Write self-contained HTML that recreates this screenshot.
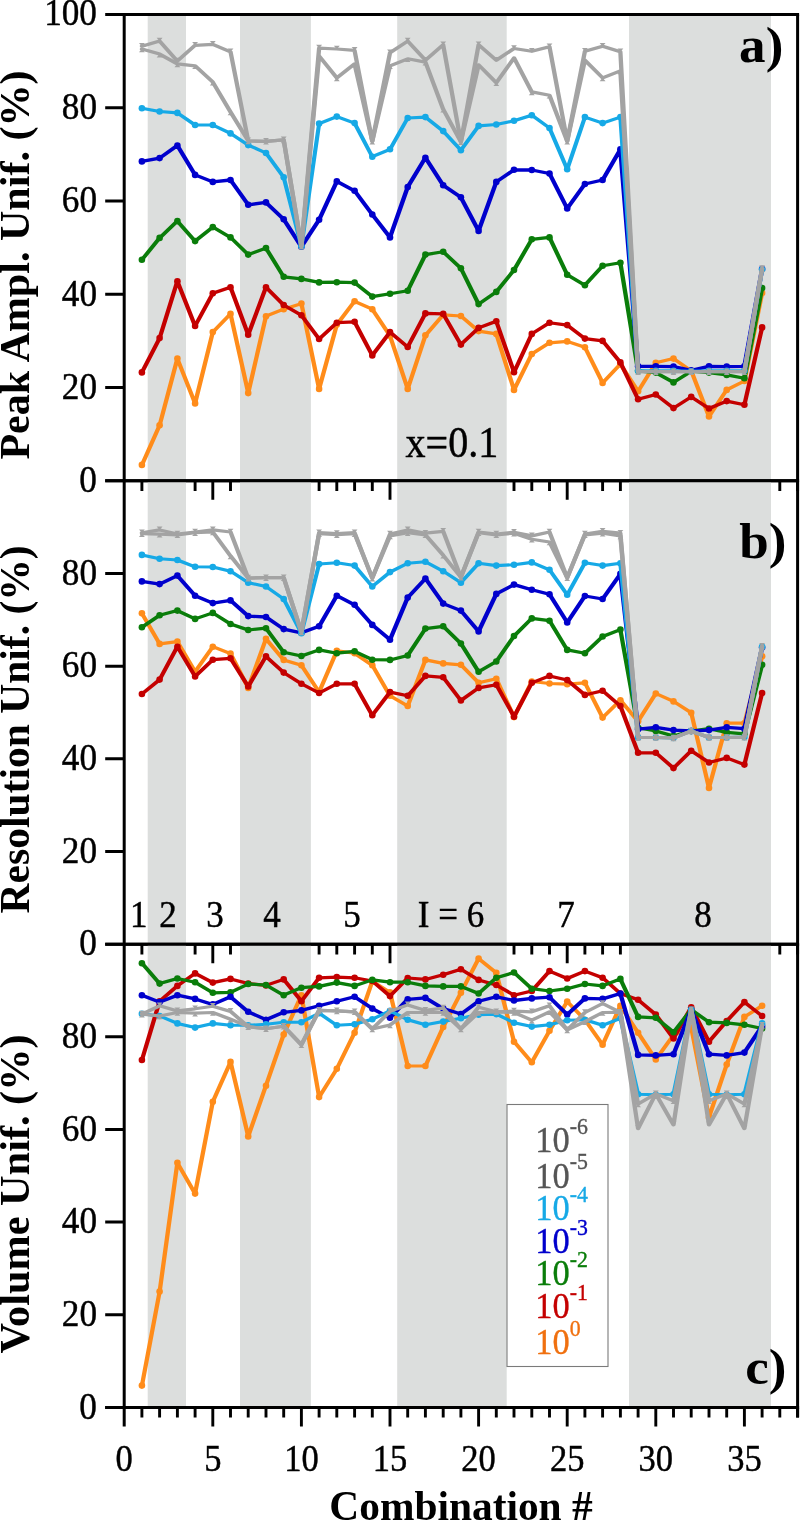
<!DOCTYPE html>
<html lang="en"><head><meta charset="utf-8"><title>Uniformity vs combination</title>
<style>html,body{margin:0;padding:0;background:#fff}body{width:800px;height:1521px;overflow:hidden}svg{display:block}text{font-family:"Liberation Serif","DejaVu Serif",serif;fill:#000}.b{font-weight:bold}.n{stroke:#000;stroke-width:0.45px}</style>
</head><body>
<svg width="800" height="1521" viewBox="0 0 800 1521">
<rect width="800" height="1521" fill="#fff"/>
<rect x="147.7" y="15.4" width="38.3" height="465.4" fill="#dcdedd"/>
<rect x="240.0" y="15.4" width="70.9" height="465.4" fill="#dcdedd"/>
<rect x="397.2" y="15.4" width="109.5" height="465.4" fill="#dcdedd"/>
<rect x="629.0" y="15.4" width="142.0" height="465.4" fill="#dcdedd"/>
<polyline transform="scale(1.35,1)" fill="none" stroke="#ff8c1a" stroke-width="3.2" stroke-linejoin="round" stroke-linecap="round" points="105.13,464.9 118.25,425.3 131.38,358.6 144.50,403.4 157.63,332.1 170.76,313.9 183.88,393.1 197.01,316.2 210.13,309.2 223.26,303.6 236.39,388.9 249.51,324.6 262.64,301.3 275.76,309.2 288.89,335.8 302.01,388.9 315.14,335.3 328.27,314.8 341.39,316.0 354.52,331.1 367.64,333.9 380.77,389.9 393.90,354.0 407.02,342.8 420.15,341.4 433.27,347.2 446.40,382.9 459.53,364.2 472.65,391.3 485.78,362.8 498.90,358.6 512.03,370.8 525.16,416.5 538.28,389.9 551.41,381.0 564.53,292.9"/>
<g fill="#ff8c1a"><circle cx="141.9" cy="464.9" r="3.3"/><circle cx="159.6" cy="425.3" r="3.3"/><circle cx="177.4" cy="358.6" r="3.3"/><circle cx="195.1" cy="403.4" r="3.3"/><circle cx="212.8" cy="332.1" r="3.3"/><circle cx="230.5" cy="313.9" r="3.3"/><circle cx="248.2" cy="393.1" r="3.3"/><circle cx="266.0" cy="316.2" r="3.3"/><circle cx="283.7" cy="309.2" r="3.3"/><circle cx="301.4" cy="303.6" r="3.3"/><circle cx="319.1" cy="388.9" r="3.3"/><circle cx="336.8" cy="324.6" r="3.3"/><circle cx="354.6" cy="301.3" r="3.3"/><circle cx="372.3" cy="309.2" r="3.3"/><circle cx="390.0" cy="335.8" r="3.3"/><circle cx="407.7" cy="388.9" r="3.3"/><circle cx="425.4" cy="335.3" r="3.3"/><circle cx="443.2" cy="314.8" r="3.3"/><circle cx="460.9" cy="316.0" r="3.3"/><circle cx="478.6" cy="331.1" r="3.3"/><circle cx="496.3" cy="333.9" r="3.3"/><circle cx="514.0" cy="389.9" r="3.3"/><circle cx="531.8" cy="354.0" r="3.3"/><circle cx="549.5" cy="342.8" r="3.3"/><circle cx="567.2" cy="341.4" r="3.3"/><circle cx="584.9" cy="347.2" r="3.3"/><circle cx="602.6" cy="382.9" r="3.3"/><circle cx="620.4" cy="364.2" r="3.3"/><circle cx="638.1" cy="391.3" r="3.3"/><circle cx="655.8" cy="362.8" r="3.3"/><circle cx="673.5" cy="358.6" r="3.3"/><circle cx="691.2" cy="370.8" r="3.3"/><circle cx="709.0" cy="416.5" r="3.3"/><circle cx="726.7" cy="389.9" r="3.3"/><circle cx="744.4" cy="381.0" r="3.3"/><circle cx="762.1" cy="292.9" r="3.3"/></g>
<polyline transform="scale(1.35,1)" fill="none" stroke="#c40000" stroke-width="3.2" stroke-linejoin="round" stroke-linecap="round" points="105.13,372.4 118.25,338.1 131.38,281.2 144.50,326.0 157.63,293.3 170.76,287.3 183.88,334.8 197.01,287.3 210.13,305.0 223.26,315.3 236.39,339.0 249.51,322.7 262.64,321.8 275.76,355.4 288.89,332.1 302.01,347.0 315.14,313.4 328.27,313.9 341.39,344.6 354.52,327.9 367.64,321.3 380.77,372.2 393.90,333.9 407.02,322.7 420.15,325.1 433.27,338.6 446.40,340.9 459.53,362.4 472.65,399.2 485.78,394.5 498.90,408.1 512.03,396.9 525.16,408.5 538.28,401.1 551.41,404.8 564.53,327.4"/>
<g fill="#c40000"><circle cx="141.9" cy="372.4" r="3.3"/><circle cx="159.6" cy="338.1" r="3.3"/><circle cx="177.4" cy="281.2" r="3.3"/><circle cx="195.1" cy="326.0" r="3.3"/><circle cx="212.8" cy="293.3" r="3.3"/><circle cx="230.5" cy="287.3" r="3.3"/><circle cx="248.2" cy="334.8" r="3.3"/><circle cx="266.0" cy="287.3" r="3.3"/><circle cx="283.7" cy="305.0" r="3.3"/><circle cx="301.4" cy="315.3" r="3.3"/><circle cx="319.1" cy="339.0" r="3.3"/><circle cx="336.8" cy="322.7" r="3.3"/><circle cx="354.6" cy="321.8" r="3.3"/><circle cx="372.3" cy="355.4" r="3.3"/><circle cx="390.0" cy="332.1" r="3.3"/><circle cx="407.7" cy="347.0" r="3.3"/><circle cx="425.4" cy="313.4" r="3.3"/><circle cx="443.2" cy="313.9" r="3.3"/><circle cx="460.9" cy="344.6" r="3.3"/><circle cx="478.6" cy="327.9" r="3.3"/><circle cx="496.3" cy="321.3" r="3.3"/><circle cx="514.0" cy="372.2" r="3.3"/><circle cx="531.8" cy="333.9" r="3.3"/><circle cx="549.5" cy="322.7" r="3.3"/><circle cx="567.2" cy="325.1" r="3.3"/><circle cx="584.9" cy="338.6" r="3.3"/><circle cx="602.6" cy="340.9" r="3.3"/><circle cx="620.4" cy="362.4" r="3.3"/><circle cx="638.1" cy="399.2" r="3.3"/><circle cx="655.8" cy="394.5" r="3.3"/><circle cx="673.5" cy="408.1" r="3.3"/><circle cx="691.2" cy="396.9" r="3.3"/><circle cx="709.0" cy="408.5" r="3.3"/><circle cx="726.7" cy="401.1" r="3.3"/><circle cx="744.4" cy="404.8" r="3.3"/><circle cx="762.1" cy="327.4" r="3.3"/></g>
<polyline transform="scale(1.35,1)" fill="none" stroke="#0a7d0a" stroke-width="3.2" stroke-linejoin="round" stroke-linecap="round" points="105.13,259.8 118.25,237.9 131.38,221.1 144.50,241.1 157.63,227.1 170.76,237.4 183.88,254.6 197.01,248.1 210.13,276.8 223.26,278.9 236.39,282.4 249.51,282.2 262.64,282.6 275.76,296.6 288.89,293.8 302.01,290.8 315.14,254.6 328.27,251.8 341.39,268.2 354.52,304.1 367.64,291.9 380.77,270.0 393.90,239.3 407.02,237.4 420.15,274.7 433.27,285.2 446.40,265.8 459.53,262.8 472.65,370.8 485.78,372.6 498.90,382.4 512.03,371.2 525.16,372.6 538.28,374.9 551.41,378.2 564.53,288.0"/>
<g fill="#0a7d0a"><circle cx="141.9" cy="259.8" r="3.3"/><circle cx="159.6" cy="237.9" r="3.3"/><circle cx="177.4" cy="221.1" r="3.3"/><circle cx="195.1" cy="241.1" r="3.3"/><circle cx="212.8" cy="227.1" r="3.3"/><circle cx="230.5" cy="237.4" r="3.3"/><circle cx="248.2" cy="254.6" r="3.3"/><circle cx="266.0" cy="248.1" r="3.3"/><circle cx="283.7" cy="276.8" r="3.3"/><circle cx="301.4" cy="278.9" r="3.3"/><circle cx="319.1" cy="282.4" r="3.3"/><circle cx="336.8" cy="282.2" r="3.3"/><circle cx="354.6" cy="282.6" r="3.3"/><circle cx="372.3" cy="296.6" r="3.3"/><circle cx="390.0" cy="293.8" r="3.3"/><circle cx="407.7" cy="290.8" r="3.3"/><circle cx="425.4" cy="254.6" r="3.3"/><circle cx="443.2" cy="251.8" r="3.3"/><circle cx="460.9" cy="268.2" r="3.3"/><circle cx="478.6" cy="304.1" r="3.3"/><circle cx="496.3" cy="291.9" r="3.3"/><circle cx="514.0" cy="270.0" r="3.3"/><circle cx="531.8" cy="239.3" r="3.3"/><circle cx="549.5" cy="237.4" r="3.3"/><circle cx="567.2" cy="274.7" r="3.3"/><circle cx="584.9" cy="285.2" r="3.3"/><circle cx="602.6" cy="265.8" r="3.3"/><circle cx="620.4" cy="262.8" r="3.3"/><circle cx="638.1" cy="370.8" r="3.3"/><circle cx="655.8" cy="372.6" r="3.3"/><circle cx="673.5" cy="382.4" r="3.3"/><circle cx="691.2" cy="371.2" r="3.3"/><circle cx="709.0" cy="372.6" r="3.3"/><circle cx="726.7" cy="374.9" r="3.3"/><circle cx="744.4" cy="378.2" r="3.3"/><circle cx="762.1" cy="288.0" r="3.3"/></g>
<polyline transform="scale(1.35,1)" fill="none" stroke="#0000cc" stroke-width="3.3" stroke-linejoin="round" stroke-linecap="round" points="105.13,161.4 118.25,158.1 131.38,145.5 144.50,174.9 157.63,181.9 170.76,180.0 183.88,204.8 197.01,202.4 210.13,219.2 223.26,246.7 236.39,219.7 249.51,181.4 262.64,190.8 275.76,214.5 288.89,237.4 302.01,187.0 315.14,157.7 328.27,185.2 341.39,197.3 354.52,230.9 367.64,181.9 380.77,169.8 393.90,170.0 407.02,173.5 420.15,208.5 433.27,184.0 446.40,180.0 459.53,149.3 472.65,366.3 485.78,366.3 498.90,366.6 512.03,370.3 525.16,366.3 538.28,366.6 551.41,366.3 564.53,269.1"/>
<g fill="#0000cc"><circle cx="141.9" cy="161.4" r="3.3"/><circle cx="159.6" cy="158.1" r="3.3"/><circle cx="177.4" cy="145.5" r="3.3"/><circle cx="195.1" cy="174.9" r="3.3"/><circle cx="212.8" cy="181.9" r="3.3"/><circle cx="230.5" cy="180.0" r="3.3"/><circle cx="248.2" cy="204.8" r="3.3"/><circle cx="266.0" cy="202.4" r="3.3"/><circle cx="283.7" cy="219.2" r="3.3"/><circle cx="301.4" cy="246.7" r="3.3"/><circle cx="319.1" cy="219.7" r="3.3"/><circle cx="336.8" cy="181.4" r="3.3"/><circle cx="354.6" cy="190.8" r="3.3"/><circle cx="372.3" cy="214.5" r="3.3"/><circle cx="390.0" cy="237.4" r="3.3"/><circle cx="407.7" cy="187.0" r="3.3"/><circle cx="425.4" cy="157.7" r="3.3"/><circle cx="443.2" cy="185.2" r="3.3"/><circle cx="460.9" cy="197.3" r="3.3"/><circle cx="478.6" cy="230.9" r="3.3"/><circle cx="496.3" cy="181.9" r="3.3"/><circle cx="514.0" cy="169.8" r="3.3"/><circle cx="531.8" cy="170.0" r="3.3"/><circle cx="549.5" cy="173.5" r="3.3"/><circle cx="567.2" cy="208.5" r="3.3"/><circle cx="584.9" cy="184.0" r="3.3"/><circle cx="602.6" cy="180.0" r="3.3"/><circle cx="620.4" cy="149.3" r="3.3"/><circle cx="638.1" cy="366.3" r="3.3"/><circle cx="655.8" cy="366.3" r="3.3"/><circle cx="673.5" cy="366.6" r="3.3"/><circle cx="691.2" cy="370.3" r="3.3"/><circle cx="709.0" cy="366.3" r="3.3"/><circle cx="726.7" cy="366.6" r="3.3"/><circle cx="744.4" cy="366.3" r="3.3"/><circle cx="762.1" cy="269.1" r="3.3"/></g>
<polyline transform="scale(1.35,1)" fill="none" stroke="#16a9e6" stroke-width="3.1" stroke-linejoin="round" stroke-linecap="round" points="105.13,108.2 118.25,111.5 131.38,112.9 144.50,125.0 157.63,125.0 170.76,133.4 183.88,145.1 197.01,153.0 210.13,177.2 223.26,246.3 236.39,123.6 249.51,116.6 262.64,123.1 275.76,156.7 288.89,149.3 302.01,118.0 315.14,117.1 328.27,131.1 341.39,150.2 354.52,125.9 367.64,124.5 380.77,120.8 393.90,115.2 407.02,128.0 420.15,169.3 433.27,117.1 446.40,123.1 459.53,117.1 472.65,370.8 485.78,370.8 498.90,370.8 512.03,371.2 525.16,370.8 538.28,370.8 551.41,370.8 564.53,269.6"/>
<g fill="#16a9e6"><circle cx="141.9" cy="108.2" r="3.3"/><circle cx="159.6" cy="111.5" r="3.3"/><circle cx="177.4" cy="112.9" r="3.3"/><circle cx="195.1" cy="125.0" r="3.3"/><circle cx="212.8" cy="125.0" r="3.3"/><circle cx="230.5" cy="133.4" r="3.3"/><circle cx="248.2" cy="145.1" r="3.3"/><circle cx="266.0" cy="153.0" r="3.3"/><circle cx="283.7" cy="177.2" r="3.3"/><circle cx="301.4" cy="246.3" r="3.3"/><circle cx="319.1" cy="123.6" r="3.3"/><circle cx="336.8" cy="116.6" r="3.3"/><circle cx="354.6" cy="123.1" r="3.3"/><circle cx="372.3" cy="156.7" r="3.3"/><circle cx="390.0" cy="149.3" r="3.3"/><circle cx="407.7" cy="118.0" r="3.3"/><circle cx="425.4" cy="117.1" r="3.3"/><circle cx="443.2" cy="131.1" r="3.3"/><circle cx="460.9" cy="150.2" r="3.3"/><circle cx="478.6" cy="125.9" r="3.3"/><circle cx="496.3" cy="124.5" r="3.3"/><circle cx="514.0" cy="120.8" r="3.3"/><circle cx="531.8" cy="115.2" r="3.3"/><circle cx="549.5" cy="128.0" r="3.3"/><circle cx="567.2" cy="169.3" r="3.3"/><circle cx="584.9" cy="117.1" r="3.3"/><circle cx="602.6" cy="123.1" r="3.3"/><circle cx="620.4" cy="117.1" r="3.3"/><circle cx="638.1" cy="370.8" r="3.3"/><circle cx="655.8" cy="370.8" r="3.3"/><circle cx="673.5" cy="370.8" r="3.3"/><circle cx="691.2" cy="371.2" r="3.3"/><circle cx="709.0" cy="370.8" r="3.3"/><circle cx="726.7" cy="370.8" r="3.3"/><circle cx="744.4" cy="370.8" r="3.3"/><circle cx="762.1" cy="269.6" r="3.3"/></g>
<polyline transform="scale(1.35,1)" fill="none" stroke="#a3a3a3" stroke-width="3.2" stroke-linejoin="round" stroke-linecap="round" points="105.13,49.0 118.25,54.1 131.38,63.9 144.50,65.8 157.63,82.1 170.76,112.0 183.88,140.9 197.01,141.3 210.13,139.9 223.26,246.3 236.39,56.0 249.51,77.9 262.64,63.9 275.76,141.3 288.89,65.8 302.01,58.8 315.14,62.1 328.27,109.2 341.39,141.8 354.52,64.9 367.64,82.8 380.77,57.9 393.90,91.9 407.02,95.2 420.15,141.3 433.27,60.2 446.40,77.9 459.53,70.9 472.65,371.7 485.78,371.7 498.90,371.7 512.03,371.7 525.16,371.7 538.28,371.7 551.41,371.7 564.53,268.6"/>
<g fill="#a3a3a3"><path d="M139.0,52.3h5.8l-2.9,-3.6z"/><path d="M156.7,57.4h5.8l-2.9,-3.6z"/><path d="M174.5,67.2h5.8l-2.9,-3.6z"/><path d="M192.2,69.1h5.8l-2.9,-3.6z"/><path d="M209.9,85.4h5.8l-2.9,-3.6z"/><path d="M227.6,115.3h5.8l-2.9,-3.6z"/><path d="M245.3,144.2h5.8l-2.9,-3.6z"/><path d="M263.1,144.6h5.8l-2.9,-3.6z"/><path d="M280.8,143.2h5.8l-2.9,-3.6z"/><path d="M298.5,249.6h5.8l-2.9,-3.6z"/><path d="M316.2,59.3h5.8l-2.9,-3.6z"/><path d="M333.9,81.2h5.8l-2.9,-3.6z"/><path d="M351.7,67.2h5.8l-2.9,-3.6z"/><path d="M369.4,144.6h5.8l-2.9,-3.6z"/><path d="M387.1,69.1h5.8l-2.9,-3.6z"/><path d="M404.8,62.1h5.8l-2.9,-3.6z"/><path d="M422.5,65.4h5.8l-2.9,-3.6z"/><path d="M440.3,112.5h5.8l-2.9,-3.6z"/><path d="M458.0,145.1h5.8l-2.9,-3.6z"/><path d="M475.7,68.2h5.8l-2.9,-3.6z"/><path d="M493.4,86.1h5.8l-2.9,-3.6z"/><path d="M511.1,61.2h5.8l-2.9,-3.6z"/><path d="M528.9,95.2h5.8l-2.9,-3.6z"/><path d="M546.6,98.5h5.8l-2.9,-3.6z"/><path d="M564.3,144.6h5.8l-2.9,-3.6z"/><path d="M582.0,63.5h5.8l-2.9,-3.6z"/><path d="M599.7,81.2h5.8l-2.9,-3.6z"/><path d="M617.5,74.2h5.8l-2.9,-3.6z"/><path d="M635.2,375.0h5.8l-2.9,-3.6z"/><path d="M652.9,375.0h5.8l-2.9,-3.6z"/><path d="M670.6,375.0h5.8l-2.9,-3.6z"/><path d="M688.3,375.0h5.8l-2.9,-3.6z"/><path d="M706.1,375.0h5.8l-2.9,-3.6z"/><path d="M723.8,375.0h5.8l-2.9,-3.6z"/><path d="M741.5,375.0h5.8l-2.9,-3.6z"/><path d="M759.2,271.9h5.8l-2.9,-3.6z"/></g>
<polyline transform="scale(1.35,1)" fill="none" stroke="#a3a3a3" stroke-width="3.2" stroke-linejoin="round" stroke-linecap="round" points="105.13,46.2 118.25,41.1 131.38,61.1 144.50,45.3 157.63,44.3 170.76,51.8 183.88,140.9 197.01,141.3 210.13,139.9 223.26,246.3 236.39,48.1 249.51,49.0 262.64,50.4 275.76,141.3 288.89,52.7 302.01,41.1 315.14,60.2 328.27,44.8 341.39,141.8 354.52,44.8 367.64,60.2 380.77,48.5 393.90,51.3 407.02,46.7 420.15,141.3 433.27,51.3 446.40,46.2 459.53,51.8 472.65,371.7 485.78,371.7 498.90,371.7 512.03,371.7 525.16,371.7 538.28,371.7 551.41,371.7 564.53,268.6"/>
<g fill="#a3a3a3"><path d="M139.0,42.9h5.8l-2.9,3.6z"/><path d="M156.7,37.8h5.8l-2.9,3.6z"/><path d="M174.5,57.8h5.8l-2.9,3.6z"/><path d="M192.2,42.0h5.8l-2.9,3.6z"/><path d="M209.9,41.0h5.8l-2.9,3.6z"/><path d="M227.6,48.5h5.8l-2.9,3.6z"/><path d="M245.3,137.6h5.8l-2.9,3.6z"/><path d="M263.1,138.0h5.8l-2.9,3.6z"/><path d="M280.8,136.6h5.8l-2.9,3.6z"/><path d="M298.5,243.0h5.8l-2.9,3.6z"/><path d="M316.2,44.8h5.8l-2.9,3.6z"/><path d="M333.9,45.7h5.8l-2.9,3.6z"/><path d="M351.7,47.1h5.8l-2.9,3.6z"/><path d="M369.4,138.0h5.8l-2.9,3.6z"/><path d="M387.1,49.4h5.8l-2.9,3.6z"/><path d="M404.8,37.8h5.8l-2.9,3.6z"/><path d="M422.5,56.9h5.8l-2.9,3.6z"/><path d="M440.3,41.5h5.8l-2.9,3.6z"/><path d="M458.0,138.5h5.8l-2.9,3.6z"/><path d="M475.7,41.5h5.8l-2.9,3.6z"/><path d="M493.4,56.9h5.8l-2.9,3.6z"/><path d="M511.1,45.2h5.8l-2.9,3.6z"/><path d="M528.9,48.0h5.8l-2.9,3.6z"/><path d="M546.6,43.4h5.8l-2.9,3.6z"/><path d="M564.3,138.0h5.8l-2.9,3.6z"/><path d="M582.0,48.0h5.8l-2.9,3.6z"/><path d="M599.7,42.9h5.8l-2.9,3.6z"/><path d="M617.5,48.5h5.8l-2.9,3.6z"/><path d="M635.2,368.4h5.8l-2.9,3.6z"/><path d="M652.9,368.4h5.8l-2.9,3.6z"/><path d="M670.6,368.4h5.8l-2.9,3.6z"/><path d="M688.3,368.4h5.8l-2.9,3.6z"/><path d="M706.1,368.4h5.8l-2.9,3.6z"/><path d="M723.8,368.4h5.8l-2.9,3.6z"/><path d="M741.5,368.4h5.8l-2.9,3.6z"/><path d="M759.2,265.3h5.8l-2.9,3.6z"/></g>
<g stroke="#000" stroke-width="3.0" fill="none">
<path d="M141.9,480.8v10.2 M159.6,480.8v10.2 M177.4,480.8v10.2 M195.1,480.8v10.2 M212.8,480.8v19.0 M230.5,480.8v10.2 M248.2,480.8v10.2 M266.0,480.8v10.2 M283.7,480.8v10.2 M301.4,480.8v19.0 M319.1,480.8v10.2 M336.8,480.8v10.2 M354.6,480.8v10.2 M372.3,480.8v10.2 M390.0,480.8v19.0 M407.7,480.8v10.2 M425.4,480.8v10.2 M443.2,480.8v10.2 M460.9,480.8v10.2 M478.6,480.8v19.0 M496.3,480.8v10.2 M514.0,480.8v10.2 M531.8,480.8v10.2 M549.5,480.8v10.2 M567.2,480.8v19.0 M584.9,480.8v10.2 M602.6,480.8v10.2 M620.4,480.8v10.2 M638.1,480.8v10.2 M655.8,480.8v19.0 M673.5,480.8v10.2 M691.2,480.8v10.2 M709.0,480.8v10.2 M726.7,480.8v10.2 M744.4,480.8v19.0 M762.1,480.8v10.2 M779.8,480.8v10.2 M797.6,480.8v10.2" stroke-width="2.9"/>
<path d="M105.2,480.8H799.1"/>
<path d="M105.2,387.5H124.2 M105.2,294.3H124.2 M105.2,201.0H124.2 M105.2,107.8H124.2"/>
</g>
<rect x="147.7" y="481.7" width="38.3" height="462.5" fill="#dcdedd"/>
<rect x="240.0" y="481.7" width="70.9" height="462.5" fill="#dcdedd"/>
<rect x="397.2" y="481.7" width="109.5" height="462.5" fill="#dcdedd"/>
<rect x="629.0" y="481.7" width="142.0" height="462.5" fill="#dcdedd"/>
<polyline transform="scale(1.35,1)" fill="none" stroke="#ff8c1a" stroke-width="3.2" stroke-linejoin="round" stroke-linecap="round" points="105.13,613.3 118.25,643.9 131.38,641.6 144.50,671.7 157.63,646.7 170.76,653.6 183.88,687.9 197.01,638.8 210.13,659.9 223.26,665.2 236.39,692.1 249.51,650.9 262.64,653.2 275.76,665.2 288.89,695.8 302.01,706.0 315.14,659.9 328.27,663.4 341.39,664.8 354.52,682.8 367.64,678.7 380.77,717.1 393.90,681.5 407.02,683.5 420.15,684.2 433.27,682.8 446.40,717.6 459.53,700.2 472.65,721.3 485.78,693.5 498.90,701.4 512.03,712.7 525.16,788.0 538.28,723.2 551.41,723.2 564.53,656.2"/>
<g fill="#ff8c1a"><circle cx="141.9" cy="613.3" r="3.3"/><circle cx="159.6" cy="643.9" r="3.3"/><circle cx="177.4" cy="641.6" r="3.3"/><circle cx="195.1" cy="671.7" r="3.3"/><circle cx="212.8" cy="646.7" r="3.3"/><circle cx="230.5" cy="653.6" r="3.3"/><circle cx="248.2" cy="687.9" r="3.3"/><circle cx="266.0" cy="638.8" r="3.3"/><circle cx="283.7" cy="659.9" r="3.3"/><circle cx="301.4" cy="665.2" r="3.3"/><circle cx="319.1" cy="692.1" r="3.3"/><circle cx="336.8" cy="650.9" r="3.3"/><circle cx="354.6" cy="653.2" r="3.3"/><circle cx="372.3" cy="665.2" r="3.3"/><circle cx="390.0" cy="695.8" r="3.3"/><circle cx="407.7" cy="706.0" r="3.3"/><circle cx="425.4" cy="659.9" r="3.3"/><circle cx="443.2" cy="663.4" r="3.3"/><circle cx="460.9" cy="664.8" r="3.3"/><circle cx="478.6" cy="682.8" r="3.3"/><circle cx="496.3" cy="678.7" r="3.3"/><circle cx="514.0" cy="717.1" r="3.3"/><circle cx="531.8" cy="681.5" r="3.3"/><circle cx="549.5" cy="683.5" r="3.3"/><circle cx="567.2" cy="684.2" r="3.3"/><circle cx="584.9" cy="682.8" r="3.3"/><circle cx="602.6" cy="717.6" r="3.3"/><circle cx="620.4" cy="700.2" r="3.3"/><circle cx="638.1" cy="721.3" r="3.3"/><circle cx="655.8" cy="693.5" r="3.3"/><circle cx="673.5" cy="701.4" r="3.3"/><circle cx="691.2" cy="712.7" r="3.3"/><circle cx="709.0" cy="788.0" r="3.3"/><circle cx="726.7" cy="723.2" r="3.3"/><circle cx="744.4" cy="723.2" r="3.3"/><circle cx="762.1" cy="656.2" r="3.3"/></g>
<polyline transform="scale(1.35,1)" fill="none" stroke="#c40000" stroke-width="3.2" stroke-linejoin="round" stroke-linecap="round" points="105.13,694.0 118.25,679.6 131.38,646.7 144.50,676.4 157.63,659.7 170.76,658.3 183.88,686.5 197.01,656.4 210.13,672.6 223.26,683.8 236.39,693.0 249.51,683.8 262.64,683.8 275.76,715.3 288.89,692.1 302.01,695.8 315.14,675.9 328.27,677.3 341.39,700.5 354.52,687.9 367.64,684.7 380.77,716.7 393.90,682.8 407.02,675.9 420.15,680.1 433.27,694.9 446.40,690.7 459.53,706.0 472.65,752.8 485.78,752.8 498.90,768.1 512.03,750.7 525.16,762.5 538.28,757.9 551.41,764.6 564.53,693.0"/>
<g fill="#c40000"><circle cx="141.9" cy="694.0" r="3.3"/><circle cx="159.6" cy="679.6" r="3.3"/><circle cx="177.4" cy="646.7" r="3.3"/><circle cx="195.1" cy="676.4" r="3.3"/><circle cx="212.8" cy="659.7" r="3.3"/><circle cx="230.5" cy="658.3" r="3.3"/><circle cx="248.2" cy="686.5" r="3.3"/><circle cx="266.0" cy="656.4" r="3.3"/><circle cx="283.7" cy="672.6" r="3.3"/><circle cx="301.4" cy="683.8" r="3.3"/><circle cx="319.1" cy="693.0" r="3.3"/><circle cx="336.8" cy="683.8" r="3.3"/><circle cx="354.6" cy="683.8" r="3.3"/><circle cx="372.3" cy="715.3" r="3.3"/><circle cx="390.0" cy="692.1" r="3.3"/><circle cx="407.7" cy="695.8" r="3.3"/><circle cx="425.4" cy="675.9" r="3.3"/><circle cx="443.2" cy="677.3" r="3.3"/><circle cx="460.9" cy="700.5" r="3.3"/><circle cx="478.6" cy="687.9" r="3.3"/><circle cx="496.3" cy="684.7" r="3.3"/><circle cx="514.0" cy="716.7" r="3.3"/><circle cx="531.8" cy="682.8" r="3.3"/><circle cx="549.5" cy="675.9" r="3.3"/><circle cx="567.2" cy="680.1" r="3.3"/><circle cx="584.9" cy="694.9" r="3.3"/><circle cx="602.6" cy="690.7" r="3.3"/><circle cx="620.4" cy="706.0" r="3.3"/><circle cx="638.1" cy="752.8" r="3.3"/><circle cx="655.8" cy="752.8" r="3.3"/><circle cx="673.5" cy="768.1" r="3.3"/><circle cx="691.2" cy="750.7" r="3.3"/><circle cx="709.0" cy="762.5" r="3.3"/><circle cx="726.7" cy="757.9" r="3.3"/><circle cx="744.4" cy="764.6" r="3.3"/><circle cx="762.1" cy="693.0" r="3.3"/></g>
<polyline transform="scale(1.35,1)" fill="none" stroke="#0a7d0a" stroke-width="3.2" stroke-linejoin="round" stroke-linecap="round" points="105.13,627.2 118.25,615.2 131.38,610.6 144.50,618.9 157.63,612.9 170.76,624.0 183.88,630.0 197.01,628.2 210.13,652.3 223.26,656.0 236.39,649.9 249.51,653.2 262.64,651.3 275.76,659.7 288.89,659.9 302.01,655.5 315.14,628.6 328.27,626.3 341.39,643.5 354.52,671.7 367.64,661.5 380.77,636.0 393.90,618.4 407.02,620.7 420.15,649.9 433.27,653.2 446.40,636.5 459.53,629.6 472.65,727.8 485.78,731.0 498.90,736.1 512.03,731.0 525.16,728.7 538.28,732.4 551.41,733.8 564.53,664.8"/>
<g fill="#0a7d0a"><circle cx="141.9" cy="627.2" r="3.3"/><circle cx="159.6" cy="615.2" r="3.3"/><circle cx="177.4" cy="610.6" r="3.3"/><circle cx="195.1" cy="618.9" r="3.3"/><circle cx="212.8" cy="612.9" r="3.3"/><circle cx="230.5" cy="624.0" r="3.3"/><circle cx="248.2" cy="630.0" r="3.3"/><circle cx="266.0" cy="628.2" r="3.3"/><circle cx="283.7" cy="652.3" r="3.3"/><circle cx="301.4" cy="656.0" r="3.3"/><circle cx="319.1" cy="649.9" r="3.3"/><circle cx="336.8" cy="653.2" r="3.3"/><circle cx="354.6" cy="651.3" r="3.3"/><circle cx="372.3" cy="659.7" r="3.3"/><circle cx="390.0" cy="659.9" r="3.3"/><circle cx="407.7" cy="655.5" r="3.3"/><circle cx="425.4" cy="628.6" r="3.3"/><circle cx="443.2" cy="626.3" r="3.3"/><circle cx="460.9" cy="643.5" r="3.3"/><circle cx="478.6" cy="671.7" r="3.3"/><circle cx="496.3" cy="661.5" r="3.3"/><circle cx="514.0" cy="636.0" r="3.3"/><circle cx="531.8" cy="618.4" r="3.3"/><circle cx="549.5" cy="620.7" r="3.3"/><circle cx="567.2" cy="649.9" r="3.3"/><circle cx="584.9" cy="653.2" r="3.3"/><circle cx="602.6" cy="636.5" r="3.3"/><circle cx="620.4" cy="629.6" r="3.3"/><circle cx="638.1" cy="727.8" r="3.3"/><circle cx="655.8" cy="731.0" r="3.3"/><circle cx="673.5" cy="736.1" r="3.3"/><circle cx="691.2" cy="731.0" r="3.3"/><circle cx="709.0" cy="728.7" r="3.3"/><circle cx="726.7" cy="732.4" r="3.3"/><circle cx="744.4" cy="733.8" r="3.3"/><circle cx="762.1" cy="664.8" r="3.3"/></g>
<polyline transform="scale(1.35,1)" fill="none" stroke="#0000cc" stroke-width="3.3" stroke-linejoin="round" stroke-linecap="round" points="105.13,581.4 118.25,584.1 131.38,575.6 144.50,595.7 157.63,603.1 170.76,600.4 183.88,616.1 197.01,617.0 210.13,629.1 223.26,632.8 236.39,626.3 249.51,595.7 262.64,604.8 275.76,624.9 288.89,639.7 302.01,597.6 315.14,578.6 328.27,603.6 341.39,610.6 354.52,631.4 367.64,593.9 380.77,584.6 393.90,589.7 407.02,594.3 420.15,622.4 433.27,596.0 446.40,599.0 459.53,573.9 472.65,729.2 485.78,727.3 498.90,730.1 512.03,731.0 525.16,730.1 538.28,727.3 551.41,728.7 564.53,647.6"/>
<g fill="#0000cc"><circle cx="141.9" cy="581.4" r="3.3"/><circle cx="159.6" cy="584.1" r="3.3"/><circle cx="177.4" cy="575.6" r="3.3"/><circle cx="195.1" cy="595.7" r="3.3"/><circle cx="212.8" cy="603.1" r="3.3"/><circle cx="230.5" cy="600.4" r="3.3"/><circle cx="248.2" cy="616.1" r="3.3"/><circle cx="266.0" cy="617.0" r="3.3"/><circle cx="283.7" cy="629.1" r="3.3"/><circle cx="301.4" cy="632.8" r="3.3"/><circle cx="319.1" cy="626.3" r="3.3"/><circle cx="336.8" cy="595.7" r="3.3"/><circle cx="354.6" cy="604.8" r="3.3"/><circle cx="372.3" cy="624.9" r="3.3"/><circle cx="390.0" cy="639.7" r="3.3"/><circle cx="407.7" cy="597.6" r="3.3"/><circle cx="425.4" cy="578.6" r="3.3"/><circle cx="443.2" cy="603.6" r="3.3"/><circle cx="460.9" cy="610.6" r="3.3"/><circle cx="478.6" cy="631.4" r="3.3"/><circle cx="496.3" cy="593.9" r="3.3"/><circle cx="514.0" cy="584.6" r="3.3"/><circle cx="531.8" cy="589.7" r="3.3"/><circle cx="549.5" cy="594.3" r="3.3"/><circle cx="567.2" cy="622.4" r="3.3"/><circle cx="584.9" cy="596.0" r="3.3"/><circle cx="602.6" cy="599.0" r="3.3"/><circle cx="620.4" cy="573.9" r="3.3"/><circle cx="638.1" cy="729.2" r="3.3"/><circle cx="655.8" cy="727.3" r="3.3"/><circle cx="673.5" cy="730.1" r="3.3"/><circle cx="691.2" cy="731.0" r="3.3"/><circle cx="709.0" cy="730.1" r="3.3"/><circle cx="726.7" cy="727.3" r="3.3"/><circle cx="744.4" cy="728.7" r="3.3"/><circle cx="762.1" cy="647.6" r="3.3"/></g>
<polyline transform="scale(1.35,1)" fill="none" stroke="#16a9e6" stroke-width="3.1" stroke-linejoin="round" stroke-linecap="round" points="105.13,554.9 118.25,558.7 131.38,560.0 144.50,566.8 157.63,567.0 170.76,571.2 183.88,582.7 197.01,586.5 210.13,599.0 223.26,633.3 236.39,564.0 249.51,562.8 262.64,565.6 275.76,586.5 288.89,572.1 302.01,563.3 315.14,561.7 328.27,571.2 341.39,582.7 354.52,563.3 367.64,565.6 380.77,564.7 393.90,562.4 407.02,569.8 420.15,594.8 433.27,562.8 446.40,565.6 459.53,563.3 472.65,737.5 485.78,737.5 498.90,738.0 512.03,731.0 525.16,737.5 538.28,737.5 551.41,737.1 564.53,646.7"/>
<g fill="#16a9e6"><circle cx="141.9" cy="554.9" r="3.3"/><circle cx="159.6" cy="558.7" r="3.3"/><circle cx="177.4" cy="560.0" r="3.3"/><circle cx="195.1" cy="566.8" r="3.3"/><circle cx="212.8" cy="567.0" r="3.3"/><circle cx="230.5" cy="571.2" r="3.3"/><circle cx="248.2" cy="582.7" r="3.3"/><circle cx="266.0" cy="586.5" r="3.3"/><circle cx="283.7" cy="599.0" r="3.3"/><circle cx="301.4" cy="633.3" r="3.3"/><circle cx="319.1" cy="564.0" r="3.3"/><circle cx="336.8" cy="562.8" r="3.3"/><circle cx="354.6" cy="565.6" r="3.3"/><circle cx="372.3" cy="586.5" r="3.3"/><circle cx="390.0" cy="572.1" r="3.3"/><circle cx="407.7" cy="563.3" r="3.3"/><circle cx="425.4" cy="561.7" r="3.3"/><circle cx="443.2" cy="571.2" r="3.3"/><circle cx="460.9" cy="582.7" r="3.3"/><circle cx="478.6" cy="563.3" r="3.3"/><circle cx="496.3" cy="565.6" r="3.3"/><circle cx="514.0" cy="564.7" r="3.3"/><circle cx="531.8" cy="562.4" r="3.3"/><circle cx="549.5" cy="569.8" r="3.3"/><circle cx="567.2" cy="594.8" r="3.3"/><circle cx="584.9" cy="562.8" r="3.3"/><circle cx="602.6" cy="565.6" r="3.3"/><circle cx="620.4" cy="563.3" r="3.3"/><circle cx="638.1" cy="737.5" r="3.3"/><circle cx="655.8" cy="737.5" r="3.3"/><circle cx="673.5" cy="738.0" r="3.3"/><circle cx="691.2" cy="731.0" r="3.3"/><circle cx="709.0" cy="737.5" r="3.3"/><circle cx="726.7" cy="737.5" r="3.3"/><circle cx="744.4" cy="737.1" r="3.3"/><circle cx="762.1" cy="646.7" r="3.3"/></g>
<polyline transform="scale(1.35,1)" fill="none" stroke="#a3a3a3" stroke-width="3.2" stroke-linejoin="round" stroke-linecap="round" points="105.13,533.6 118.25,534.1 131.38,534.8 144.50,532.7 157.63,532.0 170.76,555.9 183.88,578.1 197.01,577.7 210.13,577.7 223.26,631.9 236.39,533.6 249.51,534.6 262.64,533.6 275.76,578.1 288.89,535.9 302.01,532.7 315.14,534.8 328.27,555.2 341.39,577.2 354.52,532.7 367.64,534.8 380.77,533.2 393.90,539.2 407.02,542.0 420.15,577.7 433.27,534.8 446.40,533.2 459.53,535.9 472.65,737.5 485.78,737.5 498.90,738.0 512.03,731.0 525.16,737.5 538.28,737.5 551.41,737.1 564.53,646.2"/>
<g fill="#a3a3a3"><path d="M139.0,536.9h5.8l-2.9,-3.6z"/><path d="M156.7,537.4h5.8l-2.9,-3.6z"/><path d="M174.5,538.1h5.8l-2.9,-3.6z"/><path d="M192.2,536.0h5.8l-2.9,-3.6z"/><path d="M209.9,535.3h5.8l-2.9,-3.6z"/><path d="M227.6,559.2h5.8l-2.9,-3.6z"/><path d="M245.3,581.4h5.8l-2.9,-3.6z"/><path d="M263.1,581.0h5.8l-2.9,-3.6z"/><path d="M280.8,581.0h5.8l-2.9,-3.6z"/><path d="M298.5,635.2h5.8l-2.9,-3.6z"/><path d="M316.2,536.9h5.8l-2.9,-3.6z"/><path d="M333.9,537.9h5.8l-2.9,-3.6z"/><path d="M351.7,536.9h5.8l-2.9,-3.6z"/><path d="M369.4,581.4h5.8l-2.9,-3.6z"/><path d="M387.1,539.2h5.8l-2.9,-3.6z"/><path d="M404.8,536.0h5.8l-2.9,-3.6z"/><path d="M422.5,538.1h5.8l-2.9,-3.6z"/><path d="M440.3,558.5h5.8l-2.9,-3.6z"/><path d="M458.0,580.5h5.8l-2.9,-3.6z"/><path d="M475.7,536.0h5.8l-2.9,-3.6z"/><path d="M493.4,538.1h5.8l-2.9,-3.6z"/><path d="M511.1,536.5h5.8l-2.9,-3.6z"/><path d="M528.9,542.5h5.8l-2.9,-3.6z"/><path d="M546.6,545.3h5.8l-2.9,-3.6z"/><path d="M564.3,581.0h5.8l-2.9,-3.6z"/><path d="M582.0,538.1h5.8l-2.9,-3.6z"/><path d="M599.7,536.5h5.8l-2.9,-3.6z"/><path d="M617.5,539.2h5.8l-2.9,-3.6z"/><path d="M635.2,740.8h5.8l-2.9,-3.6z"/><path d="M652.9,740.8h5.8l-2.9,-3.6z"/><path d="M670.6,741.3h5.8l-2.9,-3.6z"/><path d="M688.3,734.3h5.8l-2.9,-3.6z"/><path d="M706.1,740.8h5.8l-2.9,-3.6z"/><path d="M723.8,740.8h5.8l-2.9,-3.6z"/><path d="M741.5,740.4h5.8l-2.9,-3.6z"/><path d="M759.2,649.5h5.8l-2.9,-3.6z"/></g>
<polyline transform="scale(1.35,1)" fill="none" stroke="#a3a3a3" stroke-width="3.2" stroke-linejoin="round" stroke-linecap="round" points="105.13,532.7 118.25,529.9 131.38,534.1 144.50,532.0 157.63,529.9 170.76,532.0 183.88,578.1 197.01,577.7 210.13,577.7 223.26,631.9 236.39,532.7 249.51,533.6 262.64,532.7 275.76,578.1 288.89,534.1 302.01,529.9 315.14,533.2 328.27,531.3 341.39,577.2 354.52,532.0 367.64,534.1 380.77,532.2 393.90,535.9 407.02,532.0 420.15,577.7 433.27,534.1 446.40,531.3 459.53,533.2 472.65,737.5 485.78,737.5 498.90,738.0 512.03,731.0 525.16,737.5 538.28,737.5 551.41,737.1 564.53,646.2"/>
<g fill="#a3a3a3"><path d="M139.0,529.4h5.8l-2.9,3.6z"/><path d="M156.7,526.6h5.8l-2.9,3.6z"/><path d="M174.5,530.8h5.8l-2.9,3.6z"/><path d="M192.2,528.7h5.8l-2.9,3.6z"/><path d="M209.9,526.6h5.8l-2.9,3.6z"/><path d="M227.6,528.7h5.8l-2.9,3.6z"/><path d="M245.3,574.8h5.8l-2.9,3.6z"/><path d="M263.1,574.4h5.8l-2.9,3.6z"/><path d="M280.8,574.4h5.8l-2.9,3.6z"/><path d="M298.5,628.6h5.8l-2.9,3.6z"/><path d="M316.2,529.4h5.8l-2.9,3.6z"/><path d="M333.9,530.3h5.8l-2.9,3.6z"/><path d="M351.7,529.4h5.8l-2.9,3.6z"/><path d="M369.4,574.8h5.8l-2.9,3.6z"/><path d="M387.1,530.8h5.8l-2.9,3.6z"/><path d="M404.8,526.6h5.8l-2.9,3.6z"/><path d="M422.5,529.9h5.8l-2.9,3.6z"/><path d="M440.3,528.0h5.8l-2.9,3.6z"/><path d="M458.0,573.9h5.8l-2.9,3.6z"/><path d="M475.7,528.7h5.8l-2.9,3.6z"/><path d="M493.4,530.8h5.8l-2.9,3.6z"/><path d="M511.1,528.9h5.8l-2.9,3.6z"/><path d="M528.9,532.6h5.8l-2.9,3.6z"/><path d="M546.6,528.7h5.8l-2.9,3.6z"/><path d="M564.3,574.4h5.8l-2.9,3.6z"/><path d="M582.0,530.8h5.8l-2.9,3.6z"/><path d="M599.7,528.0h5.8l-2.9,3.6z"/><path d="M617.5,529.9h5.8l-2.9,3.6z"/><path d="M635.2,734.2h5.8l-2.9,3.6z"/><path d="M652.9,734.2h5.8l-2.9,3.6z"/><path d="M670.6,734.7h5.8l-2.9,3.6z"/><path d="M688.3,727.7h5.8l-2.9,3.6z"/><path d="M706.1,734.2h5.8l-2.9,3.6z"/><path d="M723.8,734.2h5.8l-2.9,3.6z"/><path d="M741.5,733.8h5.8l-2.9,3.6z"/><path d="M759.2,642.9h5.8l-2.9,3.6z"/></g>
<g stroke="#000" stroke-width="3.0" fill="none">
<path d="M141.9,944.2v10.2 M159.6,944.2v10.2 M177.4,944.2v10.2 M195.1,944.2v10.2 M212.8,944.2v19.0 M230.5,944.2v10.2 M248.2,944.2v10.2 M266.0,944.2v10.2 M283.7,944.2v10.2 M301.4,944.2v19.0 M319.1,944.2v10.2 M336.8,944.2v10.2 M354.6,944.2v10.2 M372.3,944.2v10.2 M390.0,944.2v19.0 M407.7,944.2v10.2 M425.4,944.2v10.2 M443.2,944.2v10.2 M460.9,944.2v10.2 M478.6,944.2v19.0 M496.3,944.2v10.2 M514.0,944.2v10.2 M531.8,944.2v10.2 M549.5,944.2v10.2 M567.2,944.2v19.0 M584.9,944.2v10.2 M602.6,944.2v10.2 M620.4,944.2v10.2 M638.1,944.2v10.2 M655.8,944.2v19.0 M673.5,944.2v10.2 M691.2,944.2v10.2 M709.0,944.2v10.2 M726.7,944.2v10.2 M744.4,944.2v19.0 M762.1,944.2v10.2 M779.8,944.2v10.2 M797.6,944.2v10.2" stroke-width="2.9"/>
<path d="M105.2,944.2H799.1"/>
<path d="M105.2,851.5H124.2 M105.2,758.8H124.2 M105.2,666.2H124.2 M105.2,573.5H124.2"/>
</g>
<rect x="147.7" y="945.1" width="38.3" height="462.3" fill="#dcdedd"/>
<rect x="240.0" y="945.1" width="70.9" height="462.3" fill="#dcdedd"/>
<rect x="397.2" y="945.1" width="109.5" height="462.3" fill="#dcdedd"/>
<rect x="629.0" y="945.1" width="142.0" height="462.3" fill="#dcdedd"/>
<polyline transform="scale(1.35,1)" fill="none" stroke="#ff8c1a" stroke-width="3.2" stroke-linejoin="round" stroke-linecap="round" points="105.13,1385.6 118.25,1291.6 131.38,1162.8 144.50,1193.6 157.63,1101.7 170.76,1061.9 183.88,1136.4 197.01,1085.7 210.13,1034.5 223.26,995.2 236.39,1097.1 249.51,1068.8 262.64,1032.7 275.76,981.3 288.89,992.4 302.01,1066.0 315.14,1066.0 328.27,1027.1 341.39,992.8 354.52,958.6 367.64,972.9 380.77,1041.7 393.90,1062.3 407.02,1030.8 420.15,1001.6 433.27,1019.7 446.40,1044.7 459.53,1005.8 472.65,1032.7 485.78,1059.5 498.90,1035.0 512.03,1027.6 525.16,1117.4 538.28,1064.6 551.41,1016.9 564.53,1005.8"/>
<g fill="#ff8c1a"><circle cx="141.9" cy="1385.6" r="3.3"/><circle cx="159.6" cy="1291.6" r="3.3"/><circle cx="177.4" cy="1162.8" r="3.3"/><circle cx="195.1" cy="1193.6" r="3.3"/><circle cx="212.8" cy="1101.7" r="3.3"/><circle cx="230.5" cy="1061.9" r="3.3"/><circle cx="248.2" cy="1136.4" r="3.3"/><circle cx="266.0" cy="1085.7" r="3.3"/><circle cx="283.7" cy="1034.5" r="3.3"/><circle cx="301.4" cy="995.2" r="3.3"/><circle cx="319.1" cy="1097.1" r="3.3"/><circle cx="336.8" cy="1068.8" r="3.3"/><circle cx="354.6" cy="1032.7" r="3.3"/><circle cx="372.3" cy="981.3" r="3.3"/><circle cx="390.0" cy="992.4" r="3.3"/><circle cx="407.7" cy="1066.0" r="3.3"/><circle cx="425.4" cy="1066.0" r="3.3"/><circle cx="443.2" cy="1027.1" r="3.3"/><circle cx="460.9" cy="992.8" r="3.3"/><circle cx="478.6" cy="958.6" r="3.3"/><circle cx="496.3" cy="972.9" r="3.3"/><circle cx="514.0" cy="1041.7" r="3.3"/><circle cx="531.8" cy="1062.3" r="3.3"/><circle cx="549.5" cy="1030.8" r="3.3"/><circle cx="567.2" cy="1001.6" r="3.3"/><circle cx="584.9" cy="1019.7" r="3.3"/><circle cx="602.6" cy="1044.7" r="3.3"/><circle cx="620.4" cy="1005.8" r="3.3"/><circle cx="638.1" cy="1032.7" r="3.3"/><circle cx="655.8" cy="1059.5" r="3.3"/><circle cx="673.5" cy="1035.0" r="3.3"/><circle cx="691.2" cy="1027.6" r="3.3"/><circle cx="709.0" cy="1117.4" r="3.3"/><circle cx="726.7" cy="1064.6" r="3.3"/><circle cx="744.4" cy="1016.9" r="3.3"/><circle cx="762.1" cy="1005.8" r="3.3"/></g>
<polyline transform="scale(1.35,1)" fill="none" stroke="#c40000" stroke-width="3.2" stroke-linejoin="round" stroke-linecap="round" points="105.13,1060.0 118.25,1001.2 131.38,985.9 144.50,973.4 157.63,982.6 170.76,978.9 183.88,983.6 197.01,985.4 210.13,979.4 223.26,1001.2 236.39,977.8 249.51,977.1 262.64,977.8 275.76,981.0 288.89,996.1 302.01,978.0 315.14,979.4 328.27,974.8 341.39,969.2 354.52,979.9 367.64,985.0 380.77,995.2 393.90,991.0 407.02,971.1 420.15,978.5 433.27,971.1 446.40,977.8 459.53,993.5 472.65,999.8 485.78,1014.6 498.90,1038.5 512.03,1007.2 525.16,1041.7 538.28,1021.1 551.41,1002.1 564.53,1016.0"/>
<g fill="#c40000"><circle cx="141.9" cy="1060.0" r="3.3"/><circle cx="159.6" cy="1001.2" r="3.3"/><circle cx="177.4" cy="985.9" r="3.3"/><circle cx="195.1" cy="973.4" r="3.3"/><circle cx="212.8" cy="982.6" r="3.3"/><circle cx="230.5" cy="978.9" r="3.3"/><circle cx="248.2" cy="983.6" r="3.3"/><circle cx="266.0" cy="985.4" r="3.3"/><circle cx="283.7" cy="979.4" r="3.3"/><circle cx="301.4" cy="1001.2" r="3.3"/><circle cx="319.1" cy="977.8" r="3.3"/><circle cx="336.8" cy="977.1" r="3.3"/><circle cx="354.6" cy="977.8" r="3.3"/><circle cx="372.3" cy="981.0" r="3.3"/><circle cx="390.0" cy="996.1" r="3.3"/><circle cx="407.7" cy="978.0" r="3.3"/><circle cx="425.4" cy="979.4" r="3.3"/><circle cx="443.2" cy="974.8" r="3.3"/><circle cx="460.9" cy="969.2" r="3.3"/><circle cx="478.6" cy="979.9" r="3.3"/><circle cx="496.3" cy="985.0" r="3.3"/><circle cx="514.0" cy="995.2" r="3.3"/><circle cx="531.8" cy="991.0" r="3.3"/><circle cx="549.5" cy="971.1" r="3.3"/><circle cx="567.2" cy="978.5" r="3.3"/><circle cx="584.9" cy="971.1" r="3.3"/><circle cx="602.6" cy="977.8" r="3.3"/><circle cx="620.4" cy="993.5" r="3.3"/><circle cx="638.1" cy="999.8" r="3.3"/><circle cx="655.8" cy="1014.6" r="3.3"/><circle cx="673.5" cy="1038.5" r="3.3"/><circle cx="691.2" cy="1007.2" r="3.3"/><circle cx="709.0" cy="1041.7" r="3.3"/><circle cx="726.7" cy="1021.1" r="3.3"/><circle cx="744.4" cy="1002.1" r="3.3"/><circle cx="762.1" cy="1016.0" r="3.3"/></g>
<polyline transform="scale(1.35,1)" fill="none" stroke="#0a7d0a" stroke-width="3.2" stroke-linejoin="round" stroke-linecap="round" points="105.13,963.2 118.25,983.6 131.38,978.5 144.50,982.2 157.63,992.8 170.76,992.4 183.88,984.0 197.01,985.0 210.13,995.2 223.26,987.7 236.39,986.4 249.51,982.6 262.64,985.9 275.76,979.9 288.89,982.2 302.01,982.2 315.14,985.9 328.27,986.4 341.39,986.4 354.52,993.5 367.64,977.8 380.77,972.5 393.90,988.7 407.02,991.0 420.15,988.7 433.27,984.0 446.40,985.9 459.53,978.9 472.65,1016.9 485.78,1017.8 498.90,1032.2 512.03,1009.7 525.16,1022.2 538.28,1022.9 551.41,1024.8 564.53,1028.5"/>
<g fill="#0a7d0a"><circle cx="141.9" cy="963.2" r="3.3"/><circle cx="159.6" cy="983.6" r="3.3"/><circle cx="177.4" cy="978.5" r="3.3"/><circle cx="195.1" cy="982.2" r="3.3"/><circle cx="212.8" cy="992.8" r="3.3"/><circle cx="230.5" cy="992.4" r="3.3"/><circle cx="248.2" cy="984.0" r="3.3"/><circle cx="266.0" cy="985.0" r="3.3"/><circle cx="283.7" cy="995.2" r="3.3"/><circle cx="301.4" cy="987.7" r="3.3"/><circle cx="319.1" cy="986.4" r="3.3"/><circle cx="336.8" cy="982.6" r="3.3"/><circle cx="354.6" cy="985.9" r="3.3"/><circle cx="372.3" cy="979.9" r="3.3"/><circle cx="390.0" cy="982.2" r="3.3"/><circle cx="407.7" cy="982.2" r="3.3"/><circle cx="425.4" cy="985.9" r="3.3"/><circle cx="443.2" cy="986.4" r="3.3"/><circle cx="460.9" cy="986.4" r="3.3"/><circle cx="478.6" cy="993.5" r="3.3"/><circle cx="496.3" cy="977.8" r="3.3"/><circle cx="514.0" cy="972.5" r="3.3"/><circle cx="531.8" cy="988.7" r="3.3"/><circle cx="549.5" cy="991.0" r="3.3"/><circle cx="567.2" cy="988.7" r="3.3"/><circle cx="584.9" cy="984.0" r="3.3"/><circle cx="602.6" cy="985.9" r="3.3"/><circle cx="620.4" cy="978.9" r="3.3"/><circle cx="638.1" cy="1016.9" r="3.3"/><circle cx="655.8" cy="1017.8" r="3.3"/><circle cx="673.5" cy="1032.2" r="3.3"/><circle cx="691.2" cy="1009.7" r="3.3"/><circle cx="709.0" cy="1022.2" r="3.3"/><circle cx="726.7" cy="1022.9" r="3.3"/><circle cx="744.4" cy="1024.8" r="3.3"/><circle cx="762.1" cy="1028.5" r="3.3"/></g>
<polyline transform="scale(1.35,1)" fill="none" stroke="#0000cc" stroke-width="3.3" stroke-linejoin="round" stroke-linecap="round" points="105.13,995.2 118.25,1002.1 131.38,995.2 144.50,998.9 157.63,1004.4 170.76,996.8 183.88,1011.8 197.01,1019.7 210.13,1012.3 223.26,1010.4 236.39,1005.8 249.51,1001.2 262.64,996.8 275.76,1008.6 288.89,1017.8 302.01,999.3 315.14,997.9 328.27,1008.6 341.39,1014.1 354.52,1001.2 367.64,996.8 380.77,1000.5 393.90,998.4 407.02,997.2 420.15,1014.6 433.27,998.4 446.40,998.9 459.53,993.5 472.65,1054.9 485.78,1055.4 498.90,1054.2 512.03,1009.7 525.16,1054.2 538.28,1055.4 551.41,1052.6 564.53,1026.0"/>
<g fill="#0000cc"><circle cx="141.9" cy="995.2" r="3.3"/><circle cx="159.6" cy="1002.1" r="3.3"/><circle cx="177.4" cy="995.2" r="3.3"/><circle cx="195.1" cy="998.9" r="3.3"/><circle cx="212.8" cy="1004.4" r="3.3"/><circle cx="230.5" cy="996.8" r="3.3"/><circle cx="248.2" cy="1011.8" r="3.3"/><circle cx="266.0" cy="1019.7" r="3.3"/><circle cx="283.7" cy="1012.3" r="3.3"/><circle cx="301.4" cy="1010.4" r="3.3"/><circle cx="319.1" cy="1005.8" r="3.3"/><circle cx="336.8" cy="1001.2" r="3.3"/><circle cx="354.6" cy="996.8" r="3.3"/><circle cx="372.3" cy="1008.6" r="3.3"/><circle cx="390.0" cy="1017.8" r="3.3"/><circle cx="407.7" cy="999.3" r="3.3"/><circle cx="425.4" cy="997.9" r="3.3"/><circle cx="443.2" cy="1008.6" r="3.3"/><circle cx="460.9" cy="1014.1" r="3.3"/><circle cx="478.6" cy="1001.2" r="3.3"/><circle cx="496.3" cy="996.8" r="3.3"/><circle cx="514.0" cy="1000.5" r="3.3"/><circle cx="531.8" cy="998.4" r="3.3"/><circle cx="549.5" cy="997.2" r="3.3"/><circle cx="567.2" cy="1014.6" r="3.3"/><circle cx="584.9" cy="998.4" r="3.3"/><circle cx="602.6" cy="998.9" r="3.3"/><circle cx="620.4" cy="993.5" r="3.3"/><circle cx="638.1" cy="1054.9" r="3.3"/><circle cx="655.8" cy="1055.4" r="3.3"/><circle cx="673.5" cy="1054.2" r="3.3"/><circle cx="691.2" cy="1009.7" r="3.3"/><circle cx="709.0" cy="1054.2" r="3.3"/><circle cx="726.7" cy="1055.4" r="3.3"/><circle cx="744.4" cy="1052.6" r="3.3"/><circle cx="762.1" cy="1026.0" r="3.3"/></g>
<polyline transform="scale(1.35,1)" fill="none" stroke="#16a9e6" stroke-width="3.1" stroke-linejoin="round" stroke-linecap="round" points="105.13,1013.7 118.25,1016.0 131.38,1023.4 144.50,1027.6 157.63,1023.4 170.76,1025.3 183.88,1025.3 197.01,1024.3 210.13,1022.2 223.26,1022.2 236.39,1013.2 249.51,1025.3 262.64,1024.3 275.76,1019.2 288.89,1010.9 302.01,1019.7 315.14,1024.8 328.27,1021.6 341.39,1018.3 354.52,1014.6 367.64,1014.1 380.77,1022.7 393.90,1026.6 407.02,1024.8 420.15,1020.2 433.27,1019.7 446.40,1025.3 459.53,1018.3 472.65,1094.3 485.78,1094.7 498.90,1094.3 512.03,1009.7 525.16,1094.3 538.28,1094.7 551.41,1094.3 564.53,1023.4"/>
<g fill="#16a9e6"><circle cx="141.9" cy="1013.7" r="3.3"/><circle cx="159.6" cy="1016.0" r="3.3"/><circle cx="177.4" cy="1023.4" r="3.3"/><circle cx="195.1" cy="1027.6" r="3.3"/><circle cx="212.8" cy="1023.4" r="3.3"/><circle cx="230.5" cy="1025.3" r="3.3"/><circle cx="248.2" cy="1025.3" r="3.3"/><circle cx="266.0" cy="1024.3" r="3.3"/><circle cx="283.7" cy="1022.2" r="3.3"/><circle cx="301.4" cy="1022.2" r="3.3"/><circle cx="319.1" cy="1013.2" r="3.3"/><circle cx="336.8" cy="1025.3" r="3.3"/><circle cx="354.6" cy="1024.3" r="3.3"/><circle cx="372.3" cy="1019.2" r="3.3"/><circle cx="390.0" cy="1010.9" r="3.3"/><circle cx="407.7" cy="1019.7" r="3.3"/><circle cx="425.4" cy="1024.8" r="3.3"/><circle cx="443.2" cy="1021.6" r="3.3"/><circle cx="460.9" cy="1018.3" r="3.3"/><circle cx="478.6" cy="1014.6" r="3.3"/><circle cx="496.3" cy="1014.1" r="3.3"/><circle cx="514.0" cy="1022.7" r="3.3"/><circle cx="531.8" cy="1026.6" r="3.3"/><circle cx="549.5" cy="1024.8" r="3.3"/><circle cx="567.2" cy="1020.2" r="3.3"/><circle cx="584.9" cy="1019.7" r="3.3"/><circle cx="602.6" cy="1025.3" r="3.3"/><circle cx="620.4" cy="1018.3" r="3.3"/><circle cx="638.1" cy="1094.3" r="3.3"/><circle cx="655.8" cy="1094.7" r="3.3"/><circle cx="673.5" cy="1094.3" r="3.3"/><circle cx="691.2" cy="1009.7" r="3.3"/><circle cx="709.0" cy="1094.3" r="3.3"/><circle cx="726.7" cy="1094.7" r="3.3"/><circle cx="744.4" cy="1094.3" r="3.3"/><circle cx="762.1" cy="1023.4" r="3.3"/></g>
<polyline transform="scale(1.35,1)" fill="none" stroke="#a3a3a3" stroke-width="3.2" stroke-linejoin="round" stroke-linecap="round" points="105.13,1014.1 118.25,1016.0 131.38,1012.5 144.50,1013.2 157.63,1012.5 170.76,1019.2 183.88,1026.6 197.01,1028.7 210.13,1026.2 223.26,1044.7 236.39,1010.4 249.51,1010.9 262.64,1011.8 275.76,1029.0 288.89,1025.0 302.01,1012.5 315.14,1012.5 328.27,1012.5 341.39,1029.0 354.52,1012.5 367.64,1011.8 380.77,1012.5 393.90,1020.2 407.02,1011.8 420.15,1029.9 433.27,1021.6 446.40,1012.5 459.53,1012.3 472.65,1104.0 485.78,1093.8 498.90,1100.8 512.03,1009.7 525.16,1100.8 538.28,1093.8 551.41,1104.0 564.53,1025.3"/>
<g fill="#a3a3a3"><path d="M139.0,1017.4h5.8l-2.9,-3.6z"/><path d="M156.7,1019.3h5.8l-2.9,-3.6z"/><path d="M174.5,1015.8h5.8l-2.9,-3.6z"/><path d="M192.2,1016.5h5.8l-2.9,-3.6z"/><path d="M209.9,1015.8h5.8l-2.9,-3.6z"/><path d="M227.6,1022.5h5.8l-2.9,-3.6z"/><path d="M245.3,1029.9h5.8l-2.9,-3.6z"/><path d="M263.1,1032.0h5.8l-2.9,-3.6z"/><path d="M280.8,1029.5h5.8l-2.9,-3.6z"/><path d="M298.5,1048.0h5.8l-2.9,-3.6z"/><path d="M316.2,1013.7h5.8l-2.9,-3.6z"/><path d="M333.9,1014.2h5.8l-2.9,-3.6z"/><path d="M351.7,1015.1h5.8l-2.9,-3.6z"/><path d="M369.4,1032.3h5.8l-2.9,-3.6z"/><path d="M387.1,1028.3h5.8l-2.9,-3.6z"/><path d="M404.8,1015.8h5.8l-2.9,-3.6z"/><path d="M422.5,1015.8h5.8l-2.9,-3.6z"/><path d="M440.3,1015.8h5.8l-2.9,-3.6z"/><path d="M458.0,1032.3h5.8l-2.9,-3.6z"/><path d="M475.7,1015.8h5.8l-2.9,-3.6z"/><path d="M493.4,1015.1h5.8l-2.9,-3.6z"/><path d="M511.1,1015.8h5.8l-2.9,-3.6z"/><path d="M528.9,1023.5h5.8l-2.9,-3.6z"/><path d="M546.6,1015.1h5.8l-2.9,-3.6z"/><path d="M564.3,1033.2h5.8l-2.9,-3.6z"/><path d="M582.0,1024.9h5.8l-2.9,-3.6z"/><path d="M599.7,1015.8h5.8l-2.9,-3.6z"/><path d="M617.5,1015.6h5.8l-2.9,-3.6z"/><path d="M635.2,1107.3h5.8l-2.9,-3.6z"/><path d="M652.9,1097.1h5.8l-2.9,-3.6z"/><path d="M670.6,1104.1h5.8l-2.9,-3.6z"/><path d="M688.3,1013.0h5.8l-2.9,-3.6z"/><path d="M706.1,1104.1h5.8l-2.9,-3.6z"/><path d="M723.8,1097.1h5.8l-2.9,-3.6z"/><path d="M741.5,1107.3h5.8l-2.9,-3.6z"/><path d="M759.2,1028.6h5.8l-2.9,-3.6z"/></g>
<polyline transform="scale(1.35,1)" fill="none" stroke="#a3a3a3" stroke-width="3.2" stroke-linejoin="round" stroke-linecap="round" points="105.13,1014.1 118.25,1005.8 131.38,1010.9 144.50,1008.8 157.63,1006.3 170.76,1011.4 183.88,1026.6 197.01,1028.7 210.13,1026.2 223.26,1044.7 236.39,1010.4 249.51,1010.9 262.64,1011.8 275.76,1029.0 288.89,1011.4 302.01,1004.9 315.14,1010.4 328.27,1008.1 341.39,1029.0 354.52,1007.2 367.64,1011.8 380.77,1011.1 393.90,1011.8 407.02,1005.8 420.15,1029.9 433.27,1012.5 446.40,1003.5 459.53,1012.3 472.65,1128.6 485.78,1093.8 498.90,1124.8 512.03,1009.7 525.16,1124.8 538.28,1093.8 551.41,1128.6 564.53,1025.3"/>
<g fill="#a3a3a3"><path d="M139.0,1010.8h5.8l-2.9,3.6z"/><path d="M156.7,1002.5h5.8l-2.9,3.6z"/><path d="M174.5,1007.6h5.8l-2.9,3.6z"/><path d="M192.2,1005.5h5.8l-2.9,3.6z"/><path d="M209.9,1003.0h5.8l-2.9,3.6z"/><path d="M227.6,1008.1h5.8l-2.9,3.6z"/><path d="M245.3,1023.3h5.8l-2.9,3.6z"/><path d="M263.1,1025.4h5.8l-2.9,3.6z"/><path d="M280.8,1022.9h5.8l-2.9,3.6z"/><path d="M298.5,1041.4h5.8l-2.9,3.6z"/><path d="M316.2,1007.1h5.8l-2.9,3.6z"/><path d="M333.9,1007.6h5.8l-2.9,3.6z"/><path d="M351.7,1008.5h5.8l-2.9,3.6z"/><path d="M369.4,1025.7h5.8l-2.9,3.6z"/><path d="M387.1,1008.1h5.8l-2.9,3.6z"/><path d="M404.8,1001.6h5.8l-2.9,3.6z"/><path d="M422.5,1007.1h5.8l-2.9,3.6z"/><path d="M440.3,1004.8h5.8l-2.9,3.6z"/><path d="M458.0,1025.7h5.8l-2.9,3.6z"/><path d="M475.7,1003.9h5.8l-2.9,3.6z"/><path d="M493.4,1008.5h5.8l-2.9,3.6z"/><path d="M511.1,1007.8h5.8l-2.9,3.6z"/><path d="M528.9,1008.5h5.8l-2.9,3.6z"/><path d="M546.6,1002.5h5.8l-2.9,3.6z"/><path d="M564.3,1026.6h5.8l-2.9,3.6z"/><path d="M582.0,1009.2h5.8l-2.9,3.6z"/><path d="M599.7,1000.2h5.8l-2.9,3.6z"/><path d="M617.5,1009.0h5.8l-2.9,3.6z"/><path d="M635.2,1125.3h5.8l-2.9,3.6z"/><path d="M652.9,1090.5h5.8l-2.9,3.6z"/><path d="M670.6,1121.5h5.8l-2.9,3.6z"/><path d="M688.3,1006.4h5.8l-2.9,3.6z"/><path d="M706.1,1121.5h5.8l-2.9,3.6z"/><path d="M723.8,1090.5h5.8l-2.9,3.6z"/><path d="M741.5,1125.3h5.8l-2.9,3.6z"/><path d="M759.2,1022.0h5.8l-2.9,3.6z"/></g>
<g stroke="#000" stroke-width="3.0" fill="none">
<path d="M141.9,1407.4v10.2 M159.6,1407.4v10.2 M177.4,1407.4v10.2 M195.1,1407.4v10.2 M212.8,1407.4v19.0 M230.5,1407.4v10.2 M248.2,1407.4v10.2 M266.0,1407.4v10.2 M283.7,1407.4v10.2 M301.4,1407.4v19.0 M319.1,1407.4v10.2 M336.8,1407.4v10.2 M354.6,1407.4v10.2 M372.3,1407.4v10.2 M390.0,1407.4v19.0 M407.7,1407.4v10.2 M425.4,1407.4v10.2 M443.2,1407.4v10.2 M460.9,1407.4v10.2 M478.6,1407.4v19.0 M496.3,1407.4v10.2 M514.0,1407.4v10.2 M531.8,1407.4v10.2 M549.5,1407.4v10.2 M567.2,1407.4v19.0 M584.9,1407.4v10.2 M602.6,1407.4v10.2 M620.4,1407.4v10.2 M638.1,1407.4v10.2 M655.8,1407.4v19.0 M673.5,1407.4v10.2 M691.2,1407.4v10.2 M709.0,1407.4v10.2 M726.7,1407.4v10.2 M744.4,1407.4v19.0 M762.1,1407.4v10.2 M779.8,1407.4v10.2 M797.6,1407.4v10.2" stroke-width="2.9"/>
<path d="M105.2,1407.4H799.1"/>
<path d="M105.2,1314.8H124.2 M105.2,1222.1H124.2 M105.2,1129.5H124.2 M105.2,1036.8H124.2"/>
</g>
<g stroke="#000" stroke-width="3.0" fill="none">
<path d="M105.2,14.5H799.1M105.2,480.8H797.6M105.2,944.2H797.6M105.2,1407.4H797.6"/>
<path d="M124.2,14.5V1426.4"/>
<path d="M797.6,14.5V1417.6"/>
</g>
<text class="n" font-size="37.7" text-anchor="end" transform="translate(97.0,492.0) scale(0.935,1)">0</text>
<text class="n" font-size="37.7" text-anchor="end" transform="translate(97.0,398.7) scale(0.935,1)">20</text>
<text class="n" font-size="37.7" text-anchor="end" transform="translate(97.0,305.5) scale(0.935,1)">40</text>
<text class="n" font-size="37.7" text-anchor="end" transform="translate(97.0,212.2) scale(0.935,1)">60</text>
<text class="n" font-size="37.7" text-anchor="end" transform="translate(97.0,119.0) scale(0.935,1)">80</text>
<text class="n" font-size="37.7" text-anchor="end" transform="translate(97.0,25.1) scale(0.935,1)">100</text>
<text class="n" font-size="37.7" text-anchor="end" transform="translate(97.0,955.4) scale(0.935,1)">0</text>
<text class="n" font-size="37.7" text-anchor="end" transform="translate(97.0,862.7) scale(0.935,1)">20</text>
<text class="n" font-size="37.7" text-anchor="end" transform="translate(97.0,770.0) scale(0.935,1)">40</text>
<text class="n" font-size="37.7" text-anchor="end" transform="translate(97.0,677.4) scale(0.935,1)">60</text>
<text class="n" font-size="37.7" text-anchor="end" transform="translate(97.0,584.7) scale(0.935,1)">80</text>
<text class="n" font-size="37.7" text-anchor="end" transform="translate(97.0,1418.6) scale(0.935,1)">0</text>
<text class="n" font-size="37.7" text-anchor="end" transform="translate(97.0,1326.0) scale(0.935,1)">20</text>
<text class="n" font-size="37.7" text-anchor="end" transform="translate(97.0,1233.3) scale(0.935,1)">40</text>
<text class="n" font-size="37.7" text-anchor="end" transform="translate(97.0,1140.7) scale(0.935,1)">60</text>
<text class="n" font-size="37.7" text-anchor="end" transform="translate(97.0,1048.0) scale(0.935,1)">80</text>
<text class="n" font-size="37.7" text-anchor="middle" transform="translate(124.2,1471) scale(0.915,1)">0</text>
<text class="n" font-size="37.7" text-anchor="middle" transform="translate(212.8,1471) scale(0.915,1)">5</text>
<text class="n" font-size="37.7" text-anchor="middle" transform="translate(301.4,1471) scale(0.915,1)">10</text>
<text class="n" font-size="37.7" text-anchor="middle" transform="translate(390.0,1471) scale(0.915,1)">15</text>
<text class="n" font-size="37.7" text-anchor="middle" transform="translate(478.6,1471) scale(0.915,1)">20</text>
<text class="n" font-size="37.7" text-anchor="middle" transform="translate(567.2,1471) scale(0.915,1)">25</text>
<text class="n" font-size="37.7" text-anchor="middle" transform="translate(655.8,1471) scale(0.915,1)">30</text>
<text class="n" font-size="37.7" text-anchor="middle" transform="translate(744.4,1471) scale(0.915,1)">35</text>
<text class="b" font-size="41.2" text-anchor="middle" transform="translate(461,1519.5) scale(1.005,1)">Combination #</text>
<text class="b" font-size="42.6" text-anchor="middle" transform="translate(29.2,265) rotate(-90) scale(0.988,1)">Peak Ampl. Unif. (%)</text>
<text class="b" font-size="42.6" text-anchor="middle" transform="translate(29.2,729.4) rotate(-90) scale(0.975,1)">Resolution Unif. (%)</text>
<text class="b" font-size="42.6" text-anchor="middle" transform="translate(29.2,1194) rotate(-90) scale(0.993,1)">Volume Unif. (%)</text>
<text class="b" font-size="51" text-anchor="end" transform="translate(783.3,61.5) scale(1.04,1)">a)</text>
<text class="b" font-size="51" text-anchor="end" transform="translate(786.4,557.7) scale(1.04,1)">b)</text>
<text class="b" font-size="51" text-anchor="end" transform="translate(786.4,1384.2) scale(1.04,1)">c)</text>
<text class="n" font-size="44.3" text-anchor="start" transform="translate(405.5,457) scale(0.905,1)">x=0.1</text>
<text class="n" font-size="38.5" text-anchor="middle" transform="translate(138.8,927) scale(0.909,1)">1</text>
<text class="n" font-size="38.5" text-anchor="middle" transform="translate(168,927) scale(0.909,1)">2</text>
<text class="n" font-size="38.5" text-anchor="middle" transform="translate(215,927) scale(0.909,1)">3</text>
<text class="n" font-size="38.5" text-anchor="middle" transform="translate(272,927) scale(0.909,1)">4</text>
<text class="n" font-size="38.5" text-anchor="middle" transform="translate(352,927) scale(0.909,1)">5</text>
<text class="n" font-size="38.5" text-anchor="middle" transform="translate(451,927) scale(0.909,1)">I = 6</text>
<text class="n" font-size="38.5" text-anchor="middle" transform="translate(566,927) scale(0.909,1)">7</text>
<text class="n" font-size="38.5" text-anchor="middle" transform="translate(703,927) scale(0.909,1)">8</text>
<rect x="507" y="1104.5" width="101" height="262" fill="#fff" stroke="#7a7a7a" stroke-width="1.1"/>
<text font-size="35.5" transform="translate(535.2,1152) scale(0.97,1)" style="fill:#555555;stroke:#555555;stroke-width:0.35px">10<tspan font-size="22.5" dy="-18.5">-6</tspan></text>
<text font-size="35.5" transform="translate(535.2,1187.6) scale(0.97,1)" style="fill:#555555;stroke:#555555;stroke-width:0.35px">10<tspan font-size="22.5" dy="-18.5">-5</tspan></text>
<text font-size="35.5" transform="translate(535.2,1220.4) scale(0.97,1)" style="fill:#16a9e6;stroke:#16a9e6;stroke-width:0.35px">10<tspan font-size="22.5" dy="-18.5">-4</tspan></text>
<text font-size="35.5" transform="translate(535.2,1253) scale(0.97,1)" style="fill:#0000cc;stroke:#0000cc;stroke-width:0.35px">10<tspan font-size="22.5" dy="-18.5">-3</tspan></text>
<text font-size="35.5" transform="translate(535.2,1285) scale(0.97,1)" style="fill:#0a7d0a;stroke:#0a7d0a;stroke-width:0.35px">10<tspan font-size="22.5" dy="-18.5">-2</tspan></text>
<text font-size="35.5" transform="translate(535.2,1318) scale(0.97,1)" style="fill:#c40000;stroke:#c40000;stroke-width:0.35px">10<tspan font-size="22.5" dy="-18.5">-1</tspan></text>
<text font-size="35.5" transform="translate(535.2,1354) scale(0.97,1)" style="fill:#f0700f;stroke:#f0700f;stroke-width:0.35px">10<tspan font-size="22.5" dy="-18.5">0</tspan></text>
</svg>
</body></html>
